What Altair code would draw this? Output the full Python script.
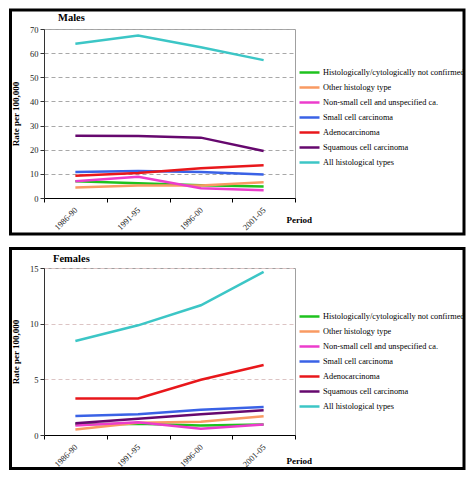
import altair as alt
import pandas as pd

periods = ["1986-90", "1991-95", "1996-00", "2001-05"]
series = [
    "Histologically/cytologically not confirmed",
    "Other histology type",
    "Non-small cell and unspecified ca.",
    "Small cell carcinoma",
    "Adenocarcinoma",
    "Squamous cell carcinoma",
    "All histological types",
]
colors = ["#1ec21e", "#f99a62", "#ec3ccc", "#3a62e6", "#e8171b", "#66086e", "#3cc6c6"]

males_not_confirmed = [6.9, 6.1, 5.3, 4.8]
males_other = [4.4, 5.2, 5.2, 6.5]
males_nonsmall = [6.9, 8.8, 4.0, 3.2]
males_small = [10.8, 11.2, 10.8, 9.7]
males_adeno = [9.2, 10.4, 12.3, 13.6]
males_squamous = [25.8, 25.7, 25.0, 19.5]
males_all = [63.9, 67.3, 62.4, 57.1]

females_not_confirmed = [0.97, 1.0, 0.85, 0.95]
females_other = [0.5, 1.1, 1.2, 1.68]
females_nonsmall = [0.85, 1.15, 0.56, 0.95]
females_small = [1.7, 1.86, 2.27, 2.52]
females_adeno = [3.28, 3.28, 4.96, 6.28]
females_squamous = [1.06, 1.47, 1.86, 2.22]
females_all = [8.45, 9.85, 11.65, 14.66]

males_ticks = [0, 10, 20, 30, 40, 50, 60, 70]
females_ticks = [0, 5, 10, 15]

FONT = "Liberation Serif"


def long_df(cols):
    rows = []
    for name, vals in zip(series, cols):
        for p, v in zip(periods, vals):
            rows.append({"period": p, "series": name, "rate": v})
    return pd.DataFrame(rows)


males_df = long_df([males_not_confirmed, males_other, males_nonsmall, males_small,
                    males_adeno, males_squamous, males_all])
females_df = long_df([females_not_confirmed, females_other, females_nonsmall, females_small,
                      females_adeno, females_squamous, females_all])


def panel(df, title, ticks, height, grid_color, title_dx, title_y,
          period_y, legend_y, border_top, border_bottom):
    x = alt.X(
        "period:N", sort=periods,
        scale=alt.Scale(type="band", paddingInner=0, paddingOuter=0),
        axis=alt.Axis(
            title="Period", titleX=242, titleY=period_y, titleAlign="left",
            titleBaseline="middle", titleFont=FONT, titleFontSize=9,
            titleFontWeight="bold", titleColor="black",
            tickBand="extent", labelAngle=315, labelAlign="right",
            labelBaseline="middle", labelPadding=6, tickSize=4,
            labelFont=FONT, labelFontSize=8.5, labelColor="#222",
            domainColor="black", tickColor="black", grid=False,
        ),
    )
    y = alt.Y(
        "rate:Q",
        scale=alt.Scale(domain=[ticks[0], ticks[-1]], nice=False),
        axis=alt.Axis(
            title="Rate per 100,000", values=ticks, titleFont=FONT, titleFontSize=9,
            titleFontWeight="bold", titleColor="black", titlePadding=9,
            labelFont=FONT, labelFontSize=8.5, labelColor="#222", labelPadding=2,
            tickSize=4, tickColor="#333", domainColor="#333",
            grid=True, gridColor=grid_color, gridDash=[4, 3], gridWidth=1,
        ),
    )
    lines = alt.Chart(df).mark_line(strokeWidth=2.5).encode(
        x=x, y=y,
        color=alt.Color(
            "series:N", sort=series,
            scale=alt.Scale(domain=series, range=colors),
            legend=alt.Legend(
                title=None, orient="none", legendX=259, legendY=legend_y,
                symbolType="M-2,0H2", symbolSize=100, symbolStrokeWidth=2.5,
                labelFont=FONT, labelFontSize=8.3, labelColor="black",
                labelOffset=7, rowPadding=3.0, padding=0, labelLimit=220,
            ),
        ),
        order=alt.Order("series:N"),
    )
    one = pd.DataFrame({"label": [title]})
    box = alt.Chart(one).mark_rect(
        filled=False, stroke="black", strokeWidth=3
    ).encode(
        x=alt.value(-33.5), x2=alt.value(420),
        y=alt.value(border_top), y2=alt.value(border_bottom),
    )
    head = alt.Chart(one).mark_text(
        align="left", baseline="alphabetic", font=FONT, fontSize=10.5,
        fontWeight="bold", color="black",
    ).encode(x=alt.value(title_dx), y=alt.value(title_y), text="label:N")
    return alt.layer(box, lines, head).properties(width=251, height=height)


males = panel(males_df, "Males", males_ticks, 169, "#a8a8a8", 14, -8.5, 21, 37, -19, 205)
females = panel(females_df, "Females", females_ticks, 167, "#dcc4c4", 9, -6, 25, 42, -19.5, 200.5)

chart = alt.vconcat(males, females, spacing=10).resolve_scale(
    color="independent"
).resolve_legend(color="independent").properties(padding=0).configure_view(
    stroke="#a0a0a0", strokeWidth=1
)

chart.save("out.html", embed_options={"renderer": "svg", "actions": False})
